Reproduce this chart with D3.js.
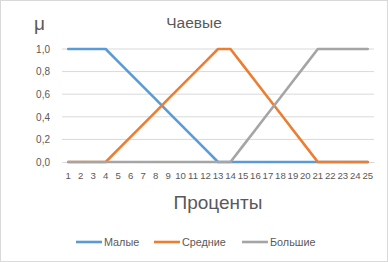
<!DOCTYPE html>
<html><head><meta charset="utf-8">
<script src="https://cdn.jsdelivr.net/npm/d3@7"></script>
<style>
html,body{margin:0;padding:0;background:#fff;}
svg{display:block;font-family:"Liberation Sans","DejaVu Sans",sans-serif;}
</style></head>
<body><svg id="c" width="388" height="262"></svg>
<script>
const categories = d3.range(1, 26).map(String);
const small  = [1,1,1,1,0.889,0.778,0.667,0.556,0.444,0.333,0.222,0.111,0,0,0,0,0,0,0,0,0,0,0,0,0];
const medium = [0,0,0,0,0.111,0.222,0.333,0.444,0.556,0.667,0.778,0.889,1,1,0.857,0.714,0.571,0.429,0.286,0.143,0,0,0,0,0];
const large  = [0,0,0,0,0,0,0,0,0,0,0,0,0,0,0.143,0.286,0.429,0.571,0.714,0.857,1,1,1,1,1];
const seriesNames = ["Малые","Средние","Большие"];
const seriesColors = ["#5B9BD5","#ED7D31","#A5A5A5"];
const yTicks = [0,0.2,0.4,0.6,0.8,1.0];

const svg = d3.select("#c");
svg.append("rect").attr("x",0.5).attr("y",0.5).attr("width",387).attr("height",261)
  .attr("fill","#fff").attr("stroke","#D9D9D9");

const L=62,R=374,T=49,B=162;
const x = d3.scaleBand().domain(categories).range([L,R]);
const y = d3.scaleLinear().domain([0,1]).range([B,T]);

svg.append("g").selectAll("line").data(yTicks.slice(1)).join("line")
  .attr("x1",L).attr("x2",R).attr("y1",d=>y(d)).attr("y2",d=>y(d))
  .attr("stroke","#D9D9D9").attr("stroke-width",1);

const fmt = d => d3.format(".1f")(d).replace(".",",");
const ya = svg.append("g").attr("transform",`translate(${L},0)`)
  .call(d3.axisLeft(y).tickValues(yTicks).tickFormat(fmt).tickSize(0).tickPadding(12));
ya.select(".domain").remove();
ya.selectAll("text").attr("font-size","10px").attr("fill","#595959").attr("font-family","Liberation Sans, sans-serif");

const xa = svg.append("g").attr("transform",`translate(0,${B})`)
  .call(d3.axisBottom(x).tickSize(0).tickPadding(10));
xa.select(".domain").attr("stroke","#D9D9D9");
xa.selectAll("text").attr("font-size","9.6px").attr("fill","#595959").attr("font-family","Liberation Sans, sans-serif");

const data = [small, medium, large];
const line = d3.line().x((d,i)=>x(categories[i])+x.bandwidth()/2).y(d=>y(d));
data.forEach((s,k)=>{
  svg.append("path").datum(s).attr("d",line).attr("fill","none")
    .attr("stroke",seriesColors[k]).attr("stroke-width",2.6).attr("stroke-linejoin","round").attr("stroke-linecap","round");
});

svg.append("text").attr("x",194).attr("y",28).attr("text-anchor","middle")
  .attr("font-size","15.5px").attr("fill","#595959").text("Чаевые");
svg.append("text").attr("x",34).attr("y",30)
  .attr("font-size","19px").attr("fill","#595959").text("μ");
svg.append("text").attr("x",(L+R)/2).attr("y",209).attr("text-anchor","middle")
  .attr("font-size","19px").attr("fill","#595959").text("Проценты");

const lg = [{x:76},{x:154},{x:242}];
seriesNames.forEach((n,k)=>{
  const g = svg.append("g");
  g.append("line").attr("x1",lg[k].x).attr("x2",lg[k].x+26).attr("y1",242).attr("y2",242)
    .attr("stroke",seriesColors[k]).attr("stroke-width",2.6);
  g.append("text").attr("x",lg[k].x+28).attr("y",246).attr("font-size","10.8px")
    .attr("fill","#595959").text(n);
});
</script></body></html>
